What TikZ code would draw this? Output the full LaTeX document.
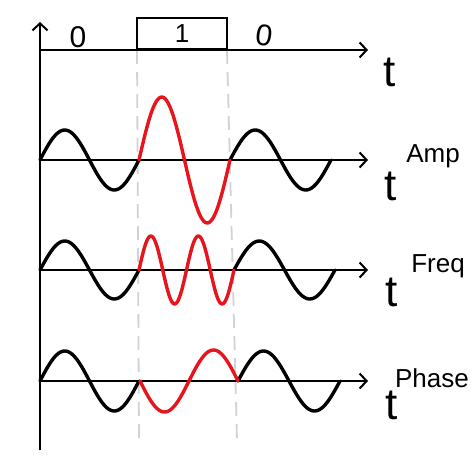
\documentclass[tikz,border=0pt]{standalone}
\usepackage{fontspec}
\setmainfont{Liberation Sans}
\usetikzlibrary{arrows.meta}
\definecolor{sigred}{HTML}{E8141C}
\definecolor{guide}{HTML}{D2D2D2}
\tikzset{
  axis/.style={line width=2pt,-{Straight Barb[length=7pt,width=15pt]}},
  wave/.style={line width=3.4pt,line cap=round,line join=round,smooth},
  sig/.style={wave,sigred},
  guideline/.style={guide,line width=1.8pt,dash pattern=on 14pt off 8pt},
  tlab/.style={inner sep=0pt,font=\fontsize{44}{44}\selectfont},
  mlab/.style={inner sep=0pt,font=\fontsize{26}{26}\selectfont},
  bitlab/.style={inner sep=0pt,font=\fontsize{30}{30}\selectfont},
}

\begin{document}
\begin{tikzpicture}[x=1pt,y=-1pt]
\useasboundingbox (0,0) rectangle (474,466);
% bit period guides
\coordinate (g1a) at (137,50); \coordinate (g1b) at (139,440);
\coordinate (g2a) at (227,50); \coordinate (g2b) at (237,440);
\draw[guideline] (g1a) -- (g1b);
\draw[guideline] (g2a) -- (g2b);
% axes
\coordinate (O) at (40,450);
\coordinate (Ytop) at (40,22);
\draw[axis] (O) -- (Ytop);
\foreach \name/\y in {bits/50,amp/160,freq/270,phase/381}{
  \coordinate (\name0) at (40,\y);
  \coordinate (\name1) at (368,\y);
  \draw[axis] (\name0) -- (\name1);
}
% bits
\node[bitlab] (b0) at (78,37) {0};
\node[draw,line width=2pt,minimum width=90pt,minimum height=31pt,
  anchor=south west,inner sep=0pt,font=\fontsize{26}{26}\selectfont] (b1) at (136,50) {1};
\node[bitlab,rotate=-8] (b2) at (264,35) {0};
% carrier before and after
\foreach \y/\s/\e/\a in {160/230/331/30,270/234/335/29,381/238/340/30}{
  \draw[wave] plot[domain=0:1,samples=60] ({40+99*\x},{\y-\a*sin(360*\x)});
  \draw[wave] plot[domain=0:1,samples=60] ({\s+(\e-\s)*\x},{\y-\a*sin(360*\x)});
}
% keyed bit
\draw[sig] plot[domain=0:1,samples=60] ({139+91*\x},{160-63*sin(360*\x)});
\draw[sig] plot[domain=0:1,samples=90] ({139+95*\x},{270-34*sin(720*\x)});
\draw[sig] plot[domain=0:1,samples=60] ({140+98*\x},{381+31*sin(360*\x)});
% labels
\node[tlab] (tBits) at (390,72) {t};
\node[tlab] (tAmp) at (391,186) {t};
\node[tlab] (tFreq) at (392,292) {t};
\node[tlab] (tPhase) at (392,405) {t};
\node[mlab] (lAmp) at (433,156) {Amp};
\node[mlab] (lFreq) at (438,266) {Freq};
\node[mlab] (lPhase) at (432,378) {Phase};
\end{tikzpicture}
\end{document}
